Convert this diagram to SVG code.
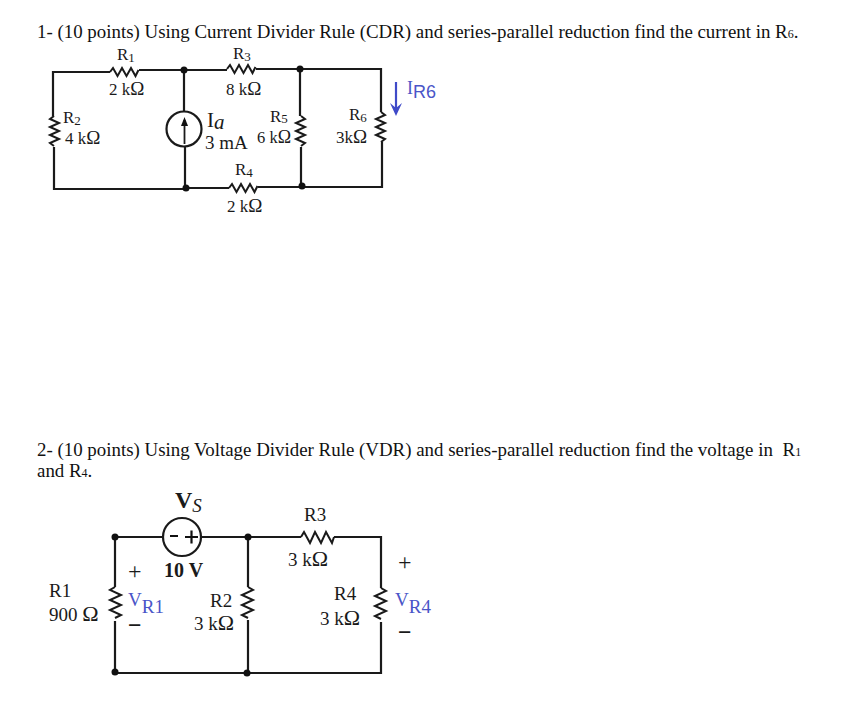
<svg xmlns="http://www.w3.org/2000/svg" width="852" height="704" viewBox="0 0 852 704">
<style>
text{font-family:"Liberation Serif","Times New Roman",serif;fill:#1a1a1a}
.h{font-size:18.9px;fill:#111}
.l{font-size:17px}
.m{font-size:19px}
.o{font-size:19px}
.p{font-size:13px}
.q{font-size:24px}
.b{fill:#4a55c8}
.w{fill:none;stroke:#1a1a1a;stroke-width:2.200}
.r{fill:none;stroke:#1a1a1a;stroke-width:2}
.d{fill:#111}
.s{fill:#fff;stroke:#1a1a1a;stroke-width:2.200}
</style>
<rect width="852" height="704" fill="#fff"/>
<g id="question-1"><text class="h" x="37" y="38">1- (10 points) Using Current Divider Rule (CDR) and series-parallel reduction find the current in R<tspan font-size="12">6</tspan>.</text></g>
<g id="question-2"><text class="h" x="37" y="456">2- (10 points) Using Voltage Divider Rule (VDR) and series-parallel reduction find the voltage in <tspan dx="5">R</tspan><tspan font-size="12">1</tspan></text><text class="h" x="37" y="477">and R<tspan font-size="12">4</tspan>.</text></g>

<g id="connectors1">
<path class="w" d="M110 72H53V116M54 147V189H186M139 70H227M256 69H381V112M382 142V187H258M229 188H186M184 70V112M185 146V188M300 69V116M301 147V187"/>
</g>
<g id="R1"><path class="r" d="M110 72l3-4 4.500 8 4.500-8 4.500 8 4.500-8 4.500 8 3-6"/><text class="l" x="117" y="60">R<tspan class="p" dy="2">1</tspan></text><text class="l" x="109" y="95">2 k<tspan class="o">Ω</tspan></text></g>
<g id="R2"><path class="r" d="M54 116l-4 3 9 4-9 4 9 4-9 4 9 4-9 4 4 3"/><text class="l" x="63" y="123">R<tspan class="p" dy="2">2</tspan></text><text class="l" x="65" y="144">4 k<tspan class="o">Ω</tspan></text></g>
<g id="R3"><path class="r" d="M227 69l3-4 4.500 8 4.500-8 4.500 8 4.500-8 4.500 8 3-6"/><text class="l" x="233" y="59">R<tspan class="p" dy="2">3</tspan></text><text class="l" x="226" y="95">8 k<tspan class="o">Ω</tspan></text></g>
<g id="R4"><path class="r" d="M229 188l3-4 4.500 8 4.500-8 4.500 8 4.500-8 4.500 8 3-6"/><text class="l" x="235" y="175">R<tspan class="p" dy="2">4</tspan></text><text class="l" x="227" y="212">2 k<tspan class="o">Ω</tspan></text></g>
<g id="R5"><path class="r" d="M301 116l4 3-9 4 9 4-9 4 9 4-9 4 9 4-4 3"/><text class="l" x="270" y="122">R<tspan class="p" dy="1">5</tspan></text><text x="257" y="143" font-size="16.500">6 k<tspan font-size="18">Ω</tspan></text></g>
<g id="R6"><path class="r" d="M381 112l4 3-9 4 9 4-9 4 9 4-9 4 9 4-4 3"/><text class="l" x="349" y="120">R<tspan class="p" dy="2">6</tspan></text><text class="l" x="336" y="143">3k<tspan class="o">Ω</tspan></text></g>
<g id="Ia"><circle class="s" cx="184" cy="129" r="17.500"/><path d="M184.500 144V120" stroke="#1a1a1a" stroke-width="1.800"/><path class="d" d="M184.500 117l-3.500 9h7z"/><text x="207" y="127" font-size="21">I<tspan font-style="italic" dy="2">a</tspan></text><text x="205" y="149" font-size="19">3 mA</text></g>
<g id="IR6"><path d="M396 82V112" stroke="#3f4ac8" stroke-width="2.200"/><path d="M390 103l6 13 6-13-6 5z" fill="#3f4ac8"/><text class="b" x="407" y="94" font-size="18">I<tspan dy="4" font-family="Liberation Sans" font-size="18" class="b">R6</tspan></text></g>
<g id="dots1"><circle class="d" cx="184" cy="70" r="3.500"/><circle class="d" cx="186" cy="188" r="3.500"/><circle class="d" cx="300" cy="69" r="3.500"/><circle class="d" cx="302" cy="186" r="3.500"/></g>

<g id="connectors2">
<path class="w" d="M115 537H163M201 537H301M334 537H381V588M381 622V673H115V621M115 587V537M248 537V587M248 620V673"/>
</g>
<g id="Vs"><circle class="s" cx="182" cy="537" r="19"/><path d="M170 536h8M185 537h13M191.500 530.500v13" stroke="#111" stroke-width="2.200"/><text x="175" y="508" font-size="24" font-weight="bold">V<tspan font-weight="normal" font-style="italic" font-size="19" dy="4">S</tspan></text><text x="164" y="577" font-size="20" font-weight="bold">10 V</text></g>
<g id="R1b"><path class="r" d="M115 587l-5 3 11 5-11 5 11 5-11 5 11 5-6 3"/><text class="m" x="49" y="597">R1</text><text class="m" x="49" y="621">900 <tspan font-size="22">Ω</tspan></text><text class="q" x="128" y="579">+</text><text class="q" x="128" y="633" font-weight="bold">−</text><text class="m b" x="128" y="606">V<tspan font-size="19" dy="7" class="b">R1</tspan></text></g>
<g id="R2b"><path class="r" d="M248 587l5 3-11 5 11 5-11 5 11 5-11 5 6 3"/><text class="m" x="210" y="607">R2</text><text class="m" x="194" y="630">3 k<tspan font-size="22">Ω</tspan></text></g>
<g id="R3b"><path class="r" d="M301 537l3-5 6 11 5-11 6 11 5-11 6 11 2-6"/><text class="m" x="304" y="521">R3</text><text class="m" x="288" y="566">3 k<tspan font-size="22">Ω</tspan></text></g>
<g id="R4b"><path class="r" d="M381 588l5 3-11 5 11 5-11 5 11 5-11 5 6 3"/><text class="m" x="334" y="600">R4</text><text class="m" x="320" y="625">3 k<tspan font-size="22">Ω</tspan></text><text class="q" x="398" y="570">+</text><text class="q" x="398" y="640" font-weight="bold">−</text><text class="m b" x="395" y="606">V<tspan font-size="19" dy="7" class="b">R4</tspan></text></g>
<g id="dots2"><circle class="d" cx="115" cy="537" r="3.500"/><circle class="d" cx="248" cy="537" r="3.500"/><circle class="d" cx="115" cy="672" r="3.500"/><circle class="d" cx="247" cy="673" r="3.500"/></g>
</svg>
